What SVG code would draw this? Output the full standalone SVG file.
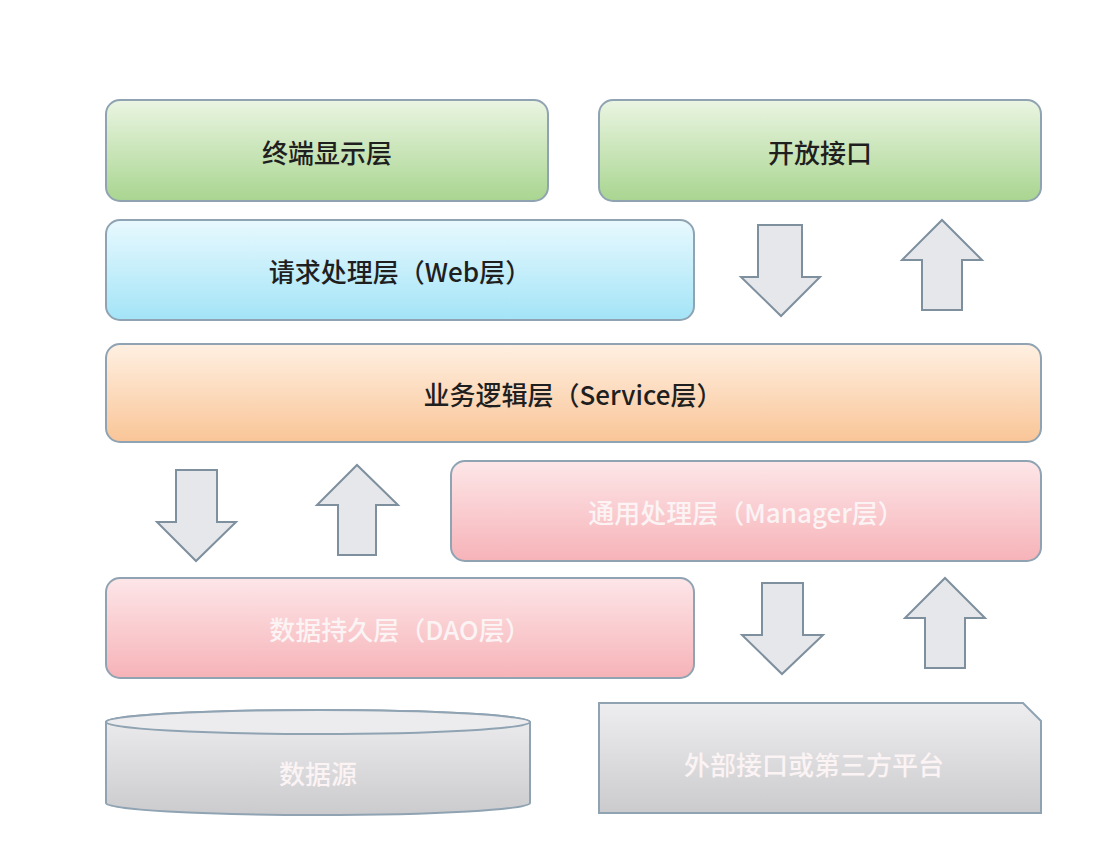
<svg xmlns="http://www.w3.org/2000/svg" width="1100" height="844" viewBox="0 0 1100 844">
<style>
.b{stroke:#8fa3b3;stroke-width:2}
.t{font-family:"Noto Sans CJK SC","Noto Sans",sans-serif;font-size:26px;font-weight:500;text-anchor:middle;dominant-baseline:central;fill:#1f1f1f}
.w{fill:#fbf3f4}
.a{fill:#e6e7ea;stroke:#7e8f9e;stroke-width:2;stroke-linejoin:miter}
</style>
<defs>
<linearGradient id="g" x1="0" y1="0" x2="0" y2="1"><stop offset="0" stop-color="#eaf5e2"/><stop offset="1" stop-color="#a9d590"/></linearGradient>
<linearGradient id="c" x1="0" y1="0" x2="0" y2="1"><stop offset="0" stop-color="#e8f9fe"/><stop offset="1" stop-color="#a3e4f7"/></linearGradient>
<linearGradient id="o" x1="0" y1="0" x2="0" y2="1"><stop offset="0" stop-color="#fff0e2"/><stop offset="1" stop-color="#f9c597"/></linearGradient>
<linearGradient id="p" x1="0" y1="0" x2="0" y2="1"><stop offset="0" stop-color="#fde6e8"/><stop offset="1" stop-color="#f6b3b8"/></linearGradient>
<linearGradient id="s" x1="0" y1="0" x2="0" y2="1"><stop offset="0" stop-color="#eeeef0"/><stop offset="1" stop-color="#cbcbcd"/></linearGradient>
</defs>
<rect width="1100" height="844" fill="#ffffff"/>
<g id="n1"><rect class="b" x="106" y="100" width="442" height="101" rx="14" fill="url(#g)"/><text class="t" x="327" y="151">终端显示层</text></g>
<g id="n2"><rect class="b" x="599" y="100" width="442" height="101" rx="14" fill="url(#g)"/><text class="t" x="820" y="151">开放接口</text></g>
<g id="n3"><rect class="b" x="106" y="220" width="588" height="100" rx="14" fill="url(#c)"/><text class="t" x="400" y="270">请求处理层（Web层）</text></g>
<g id="n4"><rect class="b" x="106" y="344" width="935" height="98" rx="14" fill="url(#o)"/><text class="t" x="573" y="393">业务逻辑层（Service层）</text></g>
<g id="n5"><rect class="b" x="451" y="461" width="590" height="100" rx="14" fill="url(#p)"/><text class="t w" x="746" y="511">通用处理层（Manager层）</text></g>
<g id="n6"><rect class="b" x="106" y="578" width="588" height="100" rx="14" fill="url(#p)"/><text class="t w" x="400" y="628">数据持久层（DAO层）</text></g>
<g id="n7"><path class="b" d="M106,722 V803 A212,12 0 0 0 530,803 V722 A212,12 0 0 0 106,722 Z" fill="url(#s)"/><ellipse class="b" cx="318" cy="722" rx="212" ry="12" fill="#ececee"/><text class="t w" x="318" y="772">数据源</text></g>
<g id="n8"><path class="b" d="M599,703 H1023 L1041,721 V813 H599 Z" fill="url(#s)"/><text class="t w" x="814" y="763">外部接口或第三方平台</text></g>
<g id="connectors">
<path class="a" d="M758,225 H802 V277 H820 L781,316 L741,277 H758 Z"/>
<path class="a" d="M922,310 H962 V260 H982 L942,220 L902,260 H922 Z"/>
<path class="a" d="M176,470 H217 V522 H236 L196,561 L157,522 H176 Z"/>
<path class="a" d="M338,555 H376 V505 H398 L357,465 L317,505 H338 Z"/>
<path class="a" d="M762,583 H803 V635 H823 L782,674 L742,635 H762 Z"/>
<path class="a" d="M925,668 H965 V618 H985 L945,578 L905,618 H925 Z"/>
</g>
</svg>
